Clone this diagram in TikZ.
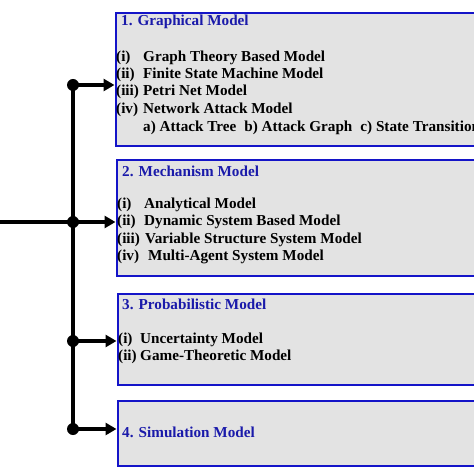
\documentclass[tikz,border=0pt]{standalone}
\usepackage{fontspec}
\setmainfont{Liberation Serif}
\usetikzlibrary{arrows.meta}
\definecolor{boxblue}{HTML}{1414C8}
\definecolor{titleblue}{HTML}{1A1AAA}
\definecolor{boxgray}{HTML}{E3E3E3}
\tikzset{
  mbox/.style={draw=boxblue, line width=1.8bp, fill=boxgray, anchor=north west, inner sep=0pt},
  ttl/.style={anchor=west, inner sep=0pt, font=\fontsize{15.2bp}{17bp}\selectfont\bfseries, text=titleblue},
  itm/.style={anchor=west, inner sep=0pt, font=\fontsize{15.2bp}{17bp}\selectfont\bfseries, text=black},
  dotn/.style={circle, fill=black, inner sep=0pt, minimum size=12bp},
  conn/.style={line width=3.8bp, black},
  arr/.style={conn, -{Triangle[length=11bp,width=12bp]}, shorten >=0.5bp}
}
\begin{document}
\begin{tikzpicture}[x=1bp,y=-1bp]
\useasboundingbox (0,0) rectangle (474,474);
\clip (0,0) rectangle (474,474);
% boxes
\node[mbox, minimum width=380bp, minimum height=133bp] (b1) at (115,12) {};
\node[mbox, minimum width=380bp, minimum height=116bp] (b2) at (116,159) {};
\node[mbox, minimum width=380bp, minimum height=91bp] (b3) at (117,293) {};
\node[mbox, minimum width=380bp, minimum height=65bp] (b4) at (117,400) {};
% box 1 text
\node[ttl] (t1) at (121,22) {1. Graphical Model};
\node[itm] (t1a) at (116,58) {\makebox[27bp][l]{(i)}Graph Theory Based Model};
\node[itm] (t1b) at (116,75) {\makebox[27bp][l]{(ii)}Finite State Machine Model};
\node[itm] (t1c) at (116,92) {\makebox[27bp][l]{(iii)}Petri Net Model};
\node[itm] (t1d) at (116,110) {\makebox[27bp][l]{(iv)}Network Attack Model};
\node[itm] (t1e) at (143,128) {a) Attack Tree\hspace{8bp}b) Attack Graph\hspace{8bp}c) State Transition};
% box 2 text
\node[ttl] (t2) at (122,171) {2. Mechanism Model};
\node[itm] (t2a) at (117,205) {\makebox[27bp][l]{(i)}Analytical Model};
\node[itm] (t2b) at (117,222) {\makebox[27bp][l]{(ii)}Dynamic System Based Model};
\node[itm] (t2c) at (117,240) {\makebox[28bp][l]{(iii)}Variable Structure System Model};
\node[itm] (t2d) at (117,257) {\makebox[31bp][l]{(iv)}Multi-Agent System Model};
% box 3 text
\node[ttl] (t3) at (122,304) {3. Probabilistic Model};
\node[itm] (t3a) at (118,340) {\makebox[22bp][l]{(i)}Uncertainty Model};
\node[itm] (t3b) at (118,357) {\makebox[22bp][l]{(ii)}Game-Theoretic Model};
% box 4 text
\node[ttl] (t4) at (122,432) {4. Simulation Model};
% connectors
\coordinate (in) at (0,222);
\node[dotn] (d1) at (73,85) {};
\node[dotn] (d2) at (73,222) {};
\node[dotn] (d3) at (73,341) {};
\node[dotn] (d4) at (73,429) {};
\draw[conn] (in) -- (d2.center);
\draw[conn] (d1.center) -- (d4.center);
\draw[arr] (d1.center) -- (d1 -| b1.west);
\draw[arr] (d2.center) -- (d2 -| b2.west);
\draw[arr] (d3.center) -- (d3 -| b3.west);
\draw[arr] (d4.center) -- (d4 -| b4.west);
\end{tikzpicture}
\end{document}
